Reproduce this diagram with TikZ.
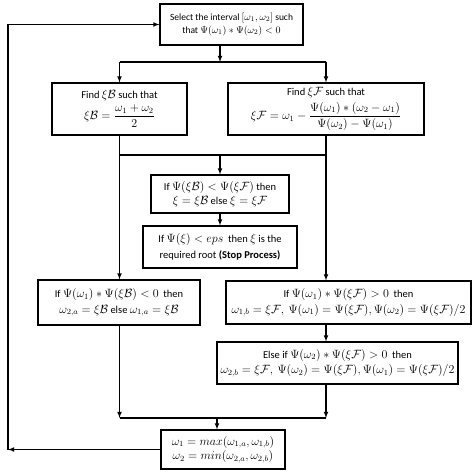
\documentclass[tikz,border=0pt]{standalone}
\usepackage{amsmath}
\usepackage{fontspec}
\setmainfont{Carlito}
\DeclareMathSizes{10.5}{11.5}{8.5}{6.5}
\DeclareMathSizes{9.5}{10}{7.5}{6}
\usetikzlibrary{positioning}

\begin{document}
\begin{tikzpicture}[x=1pt,y=-1pt,>=latex,line width=1.1pt,font=\fontsize{10.5}{13.5}\selectfont]

\tikzstyle{box} = [rectangle, draw=black, align=center, inner sep=2pt]

\useasboundingbox (0,0) rectangle (474,476);

    \node [box, minimum width=143pt, minimum height=41pt, font=\fontsize{9.5}{13}\selectfont] (sel) at (231.5,24.5) {Select the interval $[\omega_1,\omega_2]$ such\\ that $\Psi(\omega_1)*\Psi(\omega_2)<0$};
    \node [box, minimum width=135pt, minimum height=52pt] (bis) at (119.5,109) {Find $\xi\mathcal{B}$ such that\\[3pt] $\xi\mathcal{B}=\dfrac{\omega_1+\omega_2}{2}$};
    \node [box, minimum width=196pt, minimum height=52pt] (fal) at (326,109) {Find $\xi\mathcal{F}$ such that\\[3pt] $\xi\mathcal{F}=\omega_1-\dfrac{\Psi(\omega_1)*(\omega_2-\omega_1)}{\Psi(\omega_2)-\Psi(\omega_1)}$};
    \node [box, minimum width=138pt, minimum height=38pt] (cmp) at (220,194) {If $\Psi(\xi\mathcal{B})<\Psi(\xi\mathcal{F})$ then\\ $\xi=\xi\mathcal{B}$ else $\xi=\xi\mathcal{F}$};
    \node [box, minimum width=154pt, minimum height=42pt] (stop) at (220,247) {If $\Psi(\xi)<eps$~ then $\xi$ is the\\[2pt] required root \textbf{(Stop Process)}};
    \node [box, minimum width=162pt, minimum height=45pt] (ifa) at (119,302.5) {If $\Psi(\omega_1)*\Psi(\xi\mathcal{B})<0$~ then\\[2pt] $\omega_{2,a}=\xi\mathcal{B}$ else $\omega_{1,a}=\xi\mathcal{B}$};
    \node [box, minimum width=245pt, minimum height=43pt] (ifb) at (348.5,302.5) {If $\Psi(\omega_1)*\Psi(\xi\mathcal{F})>0$~ then\\[2pt] $\omega_{1,b}=\xi\mathcal{F},~\Psi(\omega_1)=\Psi(\xi\mathcal{F}),\Psi(\omega_2)=\Psi(\xi\mathcal{F})/2$};
    \node [box, minimum width=241pt, minimum height=42pt] (elb) at (337.5,363) {Else if $\Psi(\omega_2)*\Psi(\xi\mathcal{F})>0$~ then\\[2pt] $\omega_{2,b}=\xi\mathcal{F},~\Psi(\omega_2)=\Psi(\xi\mathcal{F}),\Psi(\omega_1)=\Psi(\xi\mathcal{F})/2$};
    \node [box, minimum width=124pt, minimum height=39pt] (upd) at (223,449.5) {$\omega_1=max(\omega_{1,a},\omega_{1,b})$\\[1pt] $\omega_2=min(\omega_{2,a},\omega_{2,b})$};

    \coordinate (splitT) at (220,62);
    \coordinate (splitM) at (220,155);
    \coordinate (joinB) at (217,418);
    \coordinate (loop) at (8,448);

    \draw [->] (sel.south -| splitT) -- (splitT);
    \draw (splitT -| bis.north) -- (splitT -| fal.north);
    \draw [->] (splitT -| bis.north) -- (bis.north);
    \draw [->] (splitT -| fal.north) -- (fal.north);

    \draw (bis.south) -- (bis.south |- splitM) -- (fal.south |- splitM) -- (fal.south);
    \draw [->] (splitM) -- (cmp.north);
    \draw [->] (cmp) -- (stop);
    \draw [->] (bis.south) -- (bis.south |- ifa.north);
    \draw [->] (fal.south) -- (fal.south |- ifb.north);
    \draw [->] (ifb.south -| fal.south) -- (elb.north -| fal.south);

    \draw [->] (ifa.south -| bis.south) -- (joinB -| bis.south);
    \draw [->] (elb.south -| fal.south) -- (joinB -| fal.south);
    \draw (joinB -| bis.south) -- (joinB -| fal.south);
    \draw [->] (joinB) -- (upd.north -| joinB);

    \draw [->] (upd.west) -- (upd.west -| loop);
    \draw [->] (upd.west -| loop) |- (sel.west);

\end{tikzpicture}
\end{document}
